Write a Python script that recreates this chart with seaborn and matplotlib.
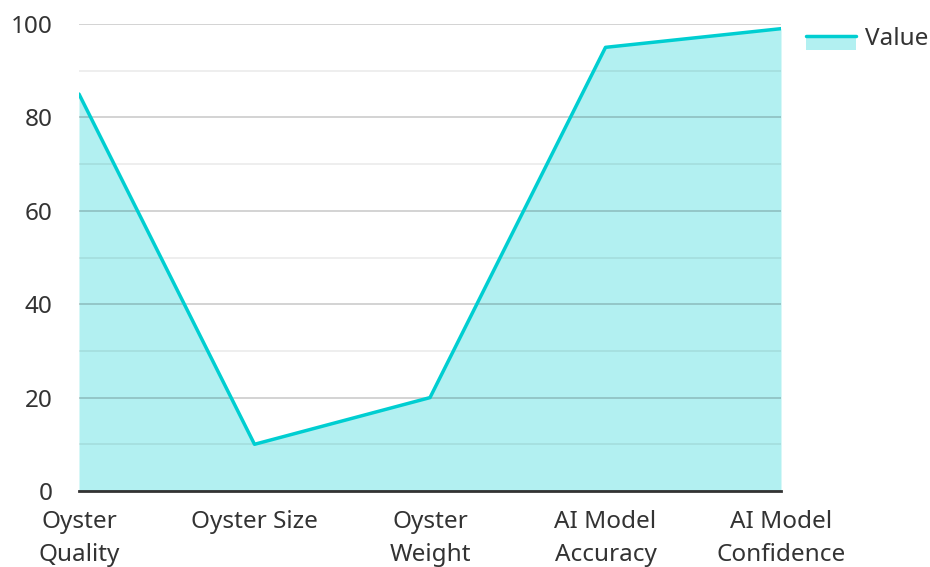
import matplotlib
matplotlib.use("Agg")
import matplotlib.pyplot as plt
import seaborn as sns
import pandas as pd
from matplotlib.lines import Line2D
from matplotlib.patches import Patch, Rectangle
from matplotlib.legend_handler import HandlerBase

categories = ["Oyster\nQuality", "Oyster Size", "Oyster\nWeight", "AI Model\nAccuracy", "AI Model\nConfidence"]
values = [85, 10, 20, 95, 99]
y_ticks = [0, 20, 40, 60, 80, 100]
series_name = "Value"

line_color = "#00CED1"
fill_color = "#00CED1"
fill_alpha = 0.3


class AreaLineHandler(HandlerBase):
    """Legend key: a filled band with the series line along its top edge."""

    def create_artists(self, legend, orig_handle, xdescent, ydescent,
                       width, height, fontsize, trans):
        x0, y0 = -xdescent, -ydescent
        top = y0 + height * 0.55
        bottom = y0 - height * 0.3
        band = Rectangle((x0, bottom), width, top - bottom,
                         facecolor=fill_color, alpha=fill_alpha,
                         edgecolor="none", transform=trans)
        line = Line2D([x0, x0 + width], [top, top], color=line_color,
                      linewidth=2.5, transform=trans)
        return [band, line]


sns.set_theme(style="white")
plt.rcParams["font.family"] = ["Noto Sans", "DejaVu Sans"]

df = pd.DataFrame({"category": categories, "value": values})

fig = plt.figure(figsize=(9.3, 5.67), dpi=100)
ax = fig.add_axes([79 / 930, 1 - 491 / 567, (781 - 79) / 930, (491 - 24) / 567])

xs = list(range(len(categories)))
ax.fill_between(xs, df["value"], 0, color=fill_color, alpha=fill_alpha,
                linewidth=0, zorder=1)
sns.lineplot(data=df, x="category", y="value", ax=ax, color=line_color,
             linewidth=2.5, sort=False, zorder=3)

ax.set_xlim(0, len(categories) - 1)
ax.set_ylim(0, 100)
ax.set_yticks(y_ticks)
ax.set_yticks([10, 30, 50, 70, 90], minor=True)
ax.set_xticks(xs)
ax.set_xticklabels(categories, linespacing=1.45)
ax.set_xlabel("")
ax.set_ylabel("")

ax.set_axisbelow(False)
ax.grid(axis="y", which="major", color="black", alpha=0.2, linewidth=1.2, zorder=2)
ax.grid(axis="y", which="minor", color="black", alpha=0.08, linewidth=1.2, zorder=2)
ax.grid(axis="x", visible=False)

for side in ["top", "right", "left"]:
    ax.spines[side].set_visible(False)
ax.spines["bottom"].set_color("#333333")
ax.spines["bottom"].set_linewidth(2)
ax.spines["bottom"].set_zorder(4)

ax.tick_params(axis="both", which="both", length=0, labelsize=17.5, colors="#333333")
ax.tick_params(axis="y", pad=19)
ax.tick_params(axis="x", pad=14)

handle = Patch()
leg = fig.legend([handle], [series_name], loc="upper left",
                 bbox_to_anchor=(806 / 930, 1 - 27 / 567), frameon=False,
                 fontsize=17.5, handlelength=2.05, handletextpad=0.38,
                 borderpad=0, borderaxespad=0,
                 handler_map={Patch: AreaLineHandler()})
for t in leg.get_texts():
    t.set_color("#333333")

fig.savefig("out.png", dpi=100)
